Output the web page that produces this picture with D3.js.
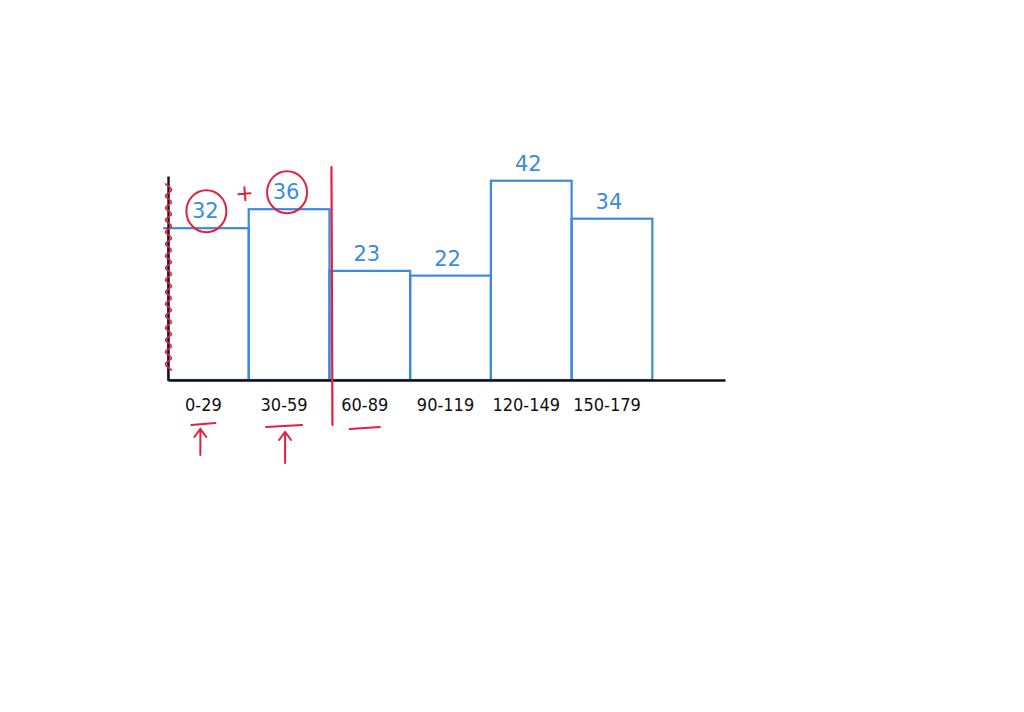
<!DOCTYPE html>
<html>
<head>
<meta charset="utf-8">
<script src="https://cdn.jsdelivr.net/npm/d3@7"></script>
<style>
  html, body { margin: 0; padding: 0; background: #fff; }
  svg { display: block; }
</style>
</head>
<body>
<div id="chart"></div>
<script>
const categories = ['0-29', '30-59', '60-89', '90-119', '120-149', '150-179'];
const binStart = [0, 30, 60, 90, 120, 150];
const binEnd = [30, 60, 90, 120, 150, 180];
const values = [32, 36, 23, 22, 42, 34];
const circled = ['0-29', '30-59'];
const underlined = ['0-29', '30-59', '60-89'];
const arrowed = ['0-29', '30-59'];

const W = 1024, H = 712;
const BLUE = '#3a8ae0', RED = '#e3203f', BLACK = '#111';

const svg = d3.select('#chart').append('svg')
    .attr('width', W)
    .attr('height', H);

const x = d3.scaleLinear().domain([0, 207]).range([168, 725]);
const y = d3.scaleLinear().domain([0, 43]).range([380, 176]);

// bars
svg.selectAll('rect.bar')
    .data(values)
    .enter().append('rect')
        .attr('class', 'bar')
        .attr('x', (d, i) => x(binStart[i]))
        .attr('y', d => y(d))
        .attr('width', (d, i) => x(binEnd[i]) - x(binStart[i]))
        .attr('height', d => y(0) - y(d))
        .attr('fill', 'none')
        .attr('stroke', BLUE)
        .attr('stroke-width', 2.2)

// little tick where the first bar meets the axis
svg.append('line')
    .attr('x1', x(0) - 5).attr('x2', x(0))
    .attr('y1', y(values[0])).attr('y2', y(values[0]))
    .attr('stroke', BLUE).attr('stroke-width', 2.2)

// axes
const xAxisCall = d3.axisBottom(x).tickValues([]).tickSizeOuter(0);
svg.append('g')
    .attr('transform', `translate(0, ${y(0)})`)
    .call(xAxisCall)
    .select('.domain').attr('stroke', BLACK).attr('stroke-width', 2.4);

const yAxisCall = d3.axisLeft(y).tickValues([]).tickSizeOuter(0);
svg.append('g')
    .attr('transform', `translate(${x(0)}, 0)`)
    .call(yAxisCall)
    .select('.domain').attr('stroke', BLACK).attr('stroke-width', 2.4);

// category labels
const mid = i => x((binStart[i] + binEnd[i]) / 2);
svg.selectAll('text.cat')
    .data(categories)
    .enter().append('text')
        .attr('class', 'cat')
        .attr('x', (d, i) => mid(i) - 5)
        .attr('y', 411)
        .attr('text-anchor', 'middle')
        .attr('font-family', 'DejaVu Sans Condensed, DejaVu Sans, sans-serif')
        .attr('font-size', 18)
        .attr('fill', BLACK)
        .text(d => d);

// value labels
svg.selectAll('text.val')
    .data(values)
    .enter().append('text')
        .attr('class', 'val')
        .attr('x', (d, i) => mid(i) - 3)
        .attr('y', d => y(d) - 10)
        .attr('text-anchor', 'middle')
        .attr('font-family', 'DejaVu Sans, sans-serif')
        .attr('font-size', 21)
        .attr('fill', BLUE)
        .text(d => d);

// red annotations
const red = svg.append('g')
    .attr('fill', 'none')
    .attr('stroke', RED)
    .attr('stroke-width', 2)
    .attr('stroke-linecap', 'round');

// wavy line over the y axis
const wave = d3.range(184, 371, 6).map((v, i) => [x(0) + (i % 2 ? 3.5 : -2.5), v]);
red.append('path')
    .attr('d', d3.line().curve(d3.curveCardinal)(wave))
    .attr('stroke-width', 1.6);

// vertical divider at 60
red.append('line')
    .attr('x1', x(60) + 2).attr('x2', x(60) + 3)
    .attr('y1', 167).attr('y2', 425)
    .attr('stroke-width', 2.2);

circled.forEach(c => {
    const i = categories.indexOf(c);
    red.append('ellipse')
        .attr('cx', mid(i) - 2)
        .attr('cy', y(values[i]) - 17)
        .attr('rx', 20).attr('ry', 21);
});

// plus between the circled values
const p0 = mid(0) + 36, p1 = y(values[1]) - 15;
red.append('path')
    .attr('d', `M${p0 - 6},${p1} L${p0 + 6},${p1 - 1} M${p0},${p1 - 7} L${p0 + 1},${p1 + 6}`);

underlined.forEach((c, k) => {
    const i = categories.indexOf(c);
    const half = [12, 18, 15][k];
    red.append('line')
        .attr('x1', mid(i) - 5 - half).attr('x2', mid(i) - 5 + half)
        .attr('y1', 425 + k * 2).attr('y2', 423 + k * 2);
});

arrowed.forEach((c, k) => {
    const i = categories.indexOf(c);
    const ax = mid(i) - 8 + k * 4, top = 429 + k * 3, bot = 455 + k * 8;
    red.append('path')
        .attr('d', `M${ax},${bot} L${ax},${top} M${ax - 6},${top + 8} L${ax},${top} L${ax + 6},${top + 8}`);
});
</script>
</body>
</html>
